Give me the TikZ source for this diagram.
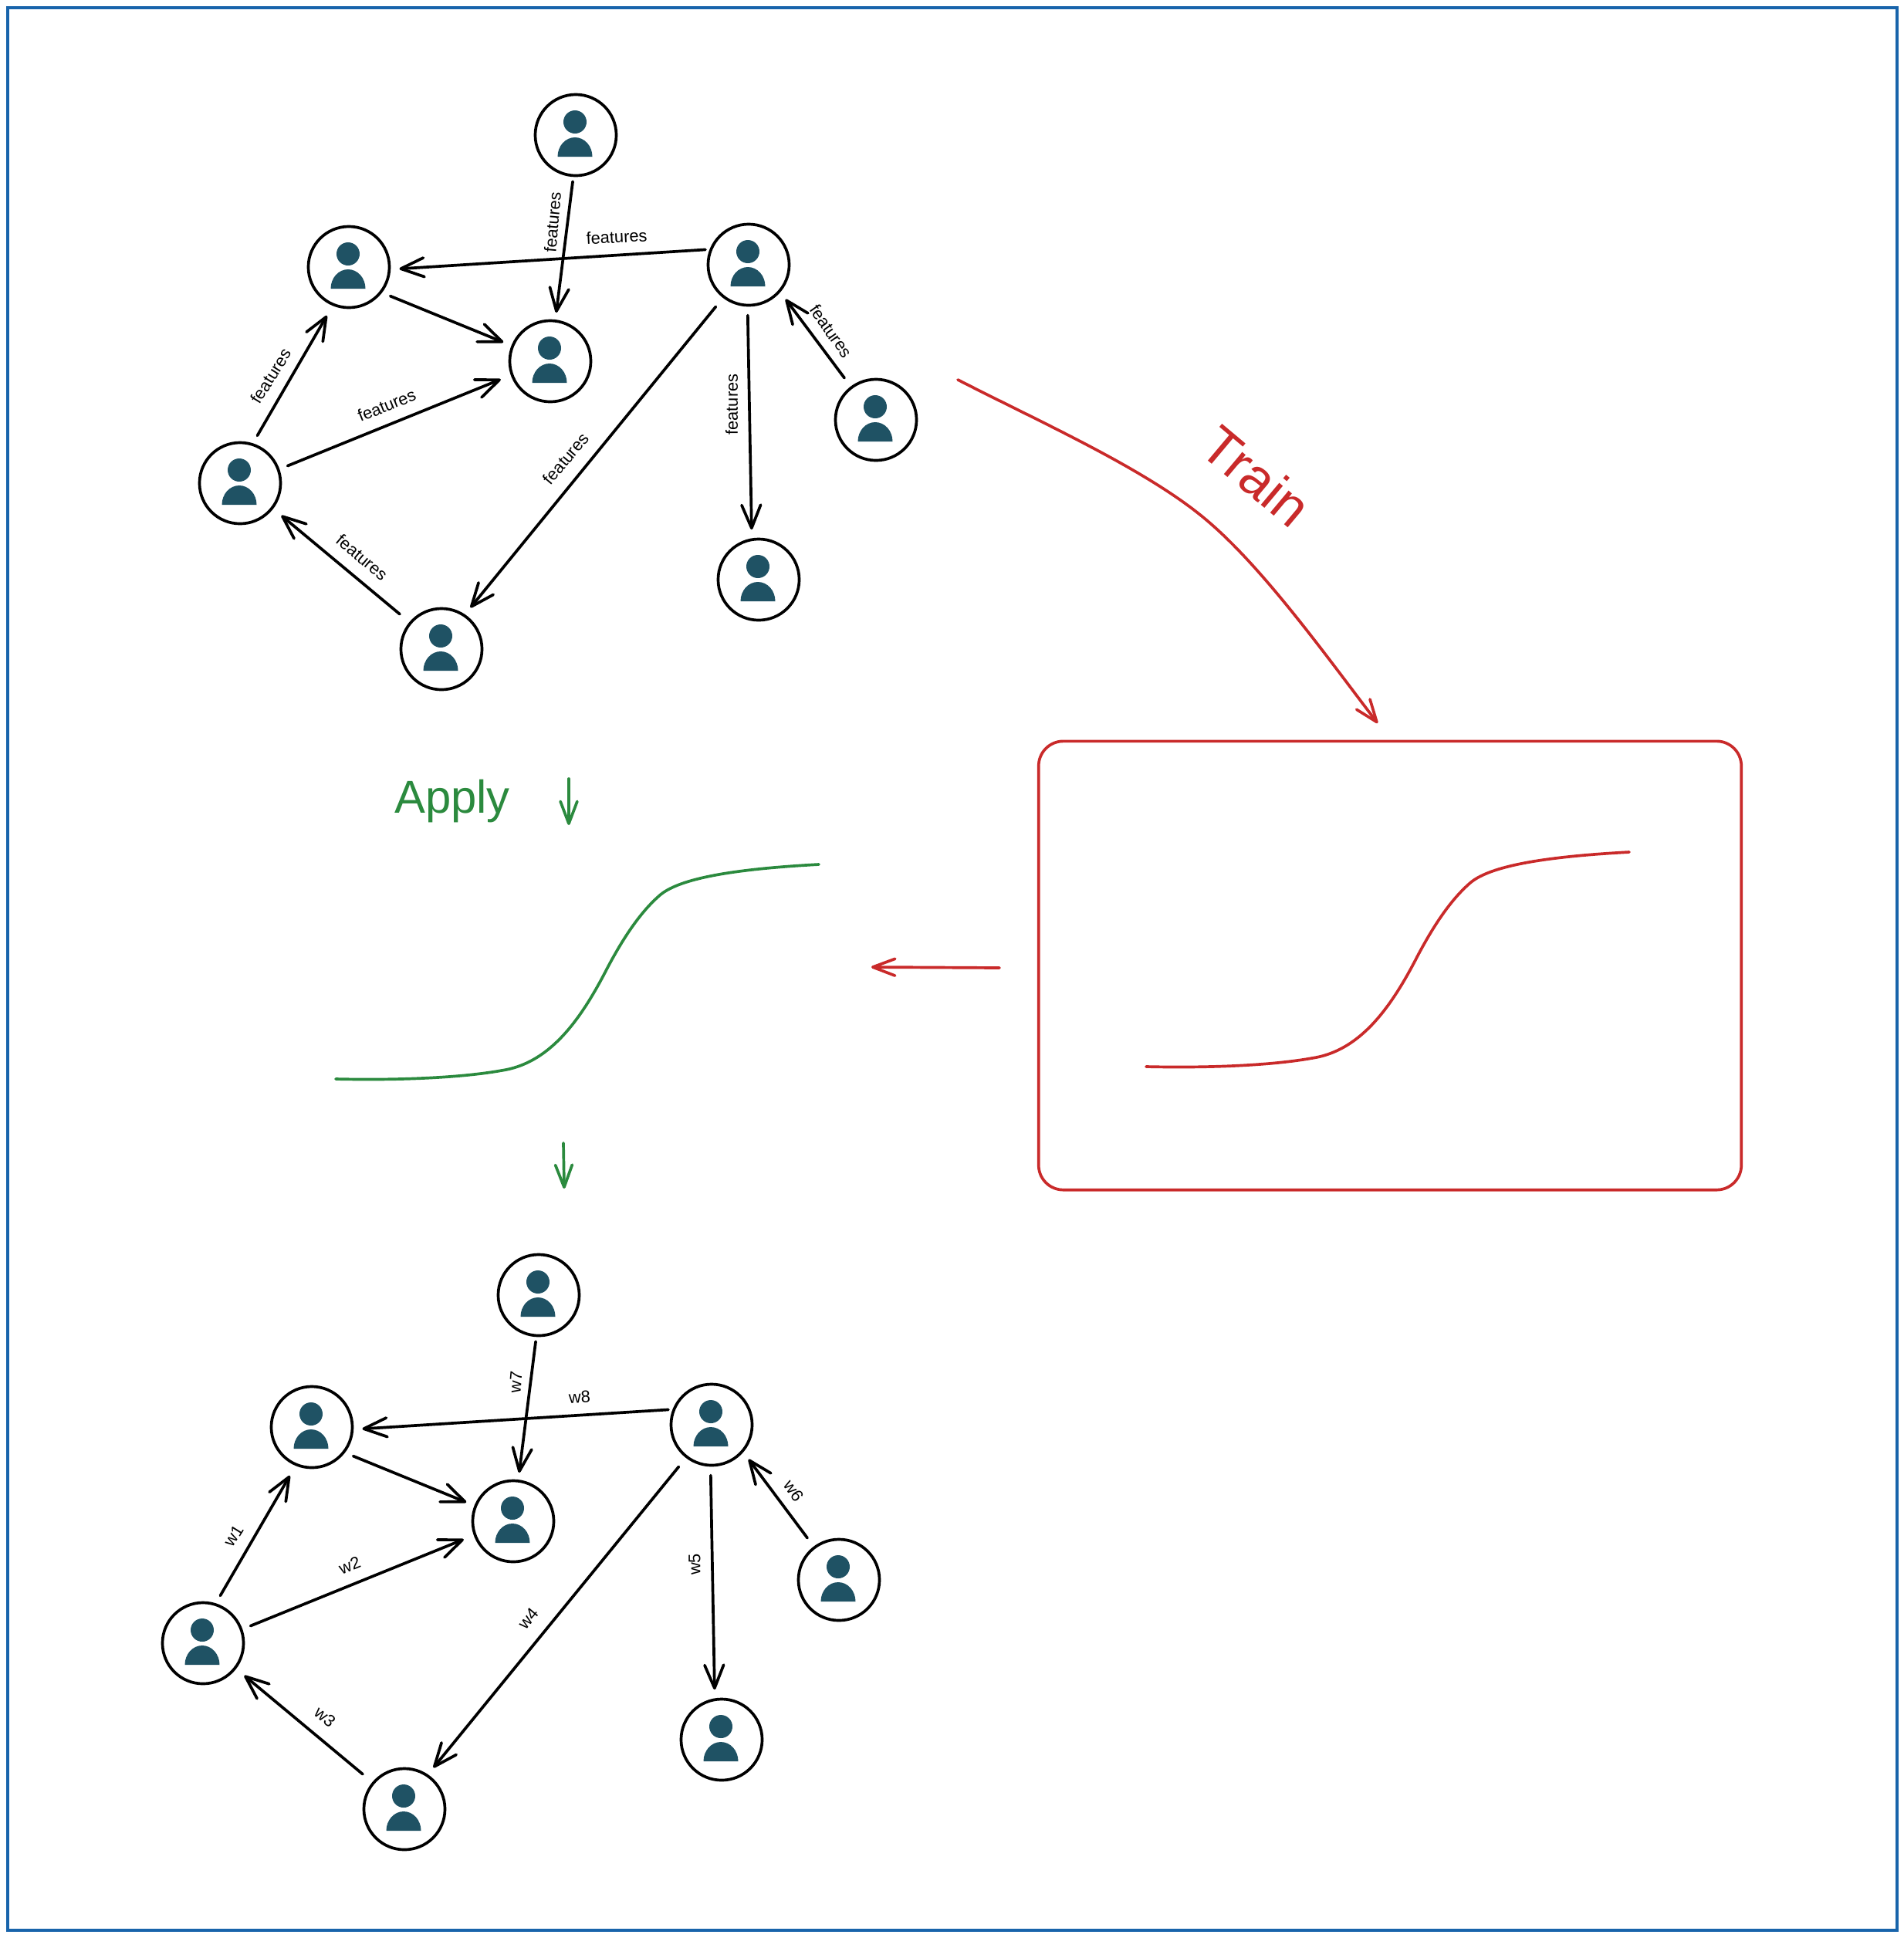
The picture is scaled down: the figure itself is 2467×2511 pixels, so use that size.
\documentclass[tikz,border=0pt]{standalone}
\usepackage{fontspec}
\setmainfont{Liberation Sans}
\usetikzlibrary{arrows.meta}
\definecolor{framecol}{HTML}{1864AB}
\definecolor{iconcol}{HTML}{1F5264}
\definecolor{traincol}{HTML}{C92A2A}
\definecolor{applycol}{HTML}{2B8A3E}

% one user: circle with head and shoulders
\newcommand{\usernode}[2]{%
  \node[user] (#1) at (#2) {};
  \fill[iconcol, shift={(#2)}] (-1,-17) circle (15);
  \fill[iconcol, shift={(#2)}] (-23.5,28) arc[start angle=180, end angle=360, x radius=22.5, y radius=25] -- cycle;
}

\newcommand{\usergraph}[8]{%
  \usernode{a}{746,175}
  \usernode{b}{452,346}
  \usernode{c}{970,343}
  \usernode{d}{713,468}
  \usernode{e}{311,626}
  \usernode{f}{1135,544}
  \usernode{g}{983,751}
  \usernode{h}{572,841}

  \path (e.70) edge[link, shorten >=1pt] (b.246);
  \path (e.20) edge[link, shorten >=0.8pt] (d.200);
  \path (h.140) edge[link, shorten <=1.4pt, shorten >=0.7pt] (e.322);
  \path (c.232) edge[link, shorten <=1pt] (h.55);
  \path (c.269) edge[link] (g.98);
  \path (f.127) edge[link, shorten <=0.7pt] (c.317);
  \path (a.266) edge[link, shorten <=-1.5pt, shorten >=-0.6pt] (d.83);
  \path (c.163) edge[link, shorten <=-1.9pt] (b.358);
  \path (b.325) edge[link] (d.158);

  \node[lab, rotate=58] (l1) at (351,487) {#1};
  \node[lab, rotate=22] (l2) at (501,525) {#2};
  \node[lab, rotate=-40] (l3) at (469,722) {#3};
  \node[lab, rotate=50] (l4) at (733,594) {#4};
  \node[lab, rotate=90] (l5) at (948,524) {#5};
  \node[lab, rotate=-55] (l6) at (1077,429) {#6};
  \node[lab, rotate=85] (l7) at (716,288) {#7};
  \node[lab, rotate=3] (l8) at (799,307) {#8};
}

% the s-shaped curve in the box
\newcommand{\scurve}{(1485,1382) .. controls (1570,1384) and (1650,1380) .. (1700,1371) .. controls (1760,1362) and (1800,1310) .. (1836,1240) .. controls (1857,1200) and (1880,1165) .. (1906,1143) .. controls (1932,1122) and (2000,1110) .. (2111,1104)}

\begin{document}
\begin{tikzpicture}[x=0.01cm, y=-0.01cm]
    \tikzstyle{user}=[circle, draw, line width=1.05pt, minimum size=1.05cm, inner sep=0pt, outer sep=0.13cm]
    \tikzstyle{link}=[-{Straight Barb[length=8.5pt, width=7pt, round]}, line width=1.05pt, line cap=round]
    \tikzstyle{lab}=[font=\fontsize{6.2}{8}\selectfont, inner sep=0pt]
    \tikzstyle{redline}=[traincol, line width=1.05pt, line cap=round]
    \tikzstyle{greenline}=[applycol, line width=1.05pt, line cap=round]
    \tikzstyle{thin barb}=[-{Straight Barb[length=8.2pt, width=6.2pt, round]}]

    \useasboundingbox (0,0) rectangle (2467,2511);
    \draw[framecol, line width=1.14pt] (10,10) rectangle (2458,2501);

    \begin{scope}[name prefix=top-]
      \usergraph{features}{features}{features}{features}{features}{features}{features}{features}
    \end{scope}

    \begin{scope}[shift={(-48,1503)}, name prefix=bot-]
      \usergraph{w1}{w2}{w3}{w4}{w5}{w6}{w7}{w8}
    \end{scope}

    \node[rectangle, draw=traincol, line width=1.05pt, rounded corners=0.32cm, minimum width=9.1cm, minimum height=5.81cm] (model) at (1801,1251) {};

    \node[text=traincol, font=\fontsize{20}{24}\selectfont, rotate=-40, inner sep=0pt] (train) at (1628,617) {Train};
    \node[text=applycol, font=\fontsize{17}{20}\selectfont, inner sep=0pt] (apply) at (586,1038) {Apply};

    \coordinate (trainstart) at (1241,492);
    \coordinate (trainmid) at (1567,677);
    \coordinate (trainend) at (1785,937);
    \draw[redline, thin barb] (trainstart) .. controls (1350,548) and (1490,610) .. (trainmid) .. controls (1640,740) and (1720,852) .. (trainend);

    \coordinate (copystart) at (1295,1254);
    \coordinate (copyend) at (1129,1253);
    \draw[redline, thin barb] (copystart) -- (copyend);

    % curves
    \draw[redline] \scurve;
    \begin{scope}[shift={(-1050,16)}]
      \draw[greenline] \scurve;
    \end{scope}

    \coordinate (applytop) at (737,1009);
    \coordinate (applytopend) at (737,1069);
    \coordinate (applybot) at (730,1481);
    \coordinate (applybotend) at (731,1540);
    \draw[greenline, thin barb] (applytop) -- (applytopend);
    \draw[greenline, thin barb] (applybot) -- (applybotend);
\end{tikzpicture}
\end{document}
